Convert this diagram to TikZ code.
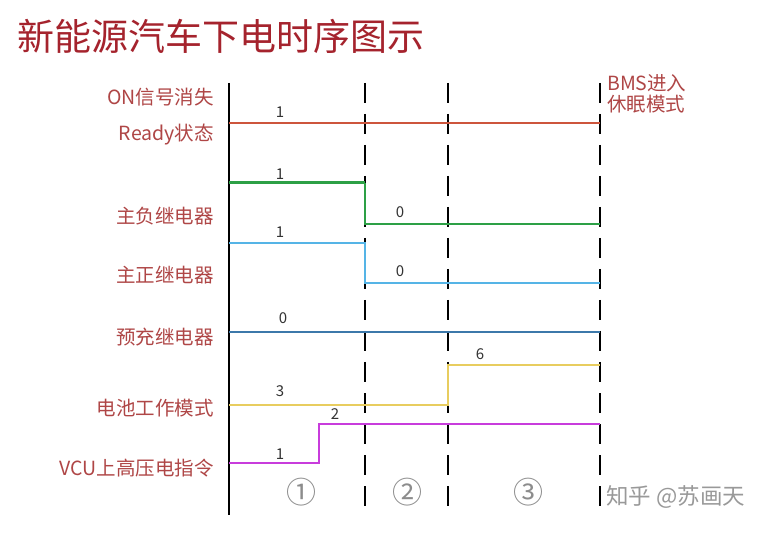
\documentclass[tikz,border=0pt]{standalone}
\usepackage{fontspec}
\setmainfont{Noto Sans CJK SC}
\definecolor{titlered}{RGB}{165,35,45}
\definecolor{labelred}{RGB}{175,70,70}
\definecolor{readyred}{RGB}{205,85,60}
\definecolor{negreen}{RGB}{45,160,70}
\definecolor{poscyan}{RGB}{85,180,230}
\definecolor{prebl}{RGB}{60,120,170}
\definecolor{batyel}{RGB}{232,205,95}
\definecolor{vcumag}{RGB}{200,60,220}
\tikzset{
	siglabel/.style={anchor=east,text=labelred,font=\fontsize{19.5}{21}\selectfont,inner sep=0pt},
	val/.style={font=\fontsize{15}{17}\selectfont,text=black!80,inner sep=0pt},
	phase/.style={font=\fontsize{30}{32}\selectfont,text=black!45,inner sep=0pt},
	tline/.style={black,line width=2.6pt,dash pattern=on 20pt off 11pt}
}
\begin{document}
\begin{tikzpicture}[x=1pt,y=-1pt]
	\useasboundingbox[fill=white] (0,0) rectangle (766,537);
	% title
	\node[text=titlered,font=\fontsize{37}{39}\selectfont,anchor=west,inner sep=0pt] (title) at (17,36) {新能源汽车下电时序图示};
	% time axis
	\draw[line width=2.6pt] (229,83)--(229,515);
	\draw[tline] (365,83)--(365,515);
	\draw[tline] (448,83)--(448,515);
	\draw[tline] (600,83)--(600,515);
	% signals
	\draw[readyred,line width=1.6pt] (229,123)--(600,123);
	\draw[negreen,line width=3pt] (229,183)--(365,183);
	\draw[negreen,line width=1.8pt] (365,183)--(365,224)--(600,224);
	\draw[poscyan,line width=1.8pt] (229,243)--(365,243)--(365,283)--(600,283);
	\draw[prebl,line width=1.8pt] (229,332)--(600,332);
	\draw[batyel,line width=1.8pt] (229,405)--(448,405)--(448,365)--(600,365);
	\draw[vcumag,line width=2pt] (229,463)--(319,463)--(319,424)--(600,424);
	% values
	\node[val] (v1) at (280,112) {1};
	\node[val] (v2) at (280,174) {1};
	\node[val] (v3) at (400,212) {0};
	\node[val] (v4) at (280,232) {1};
	\node[val] (v5) at (400,271) {0};
	\node[val] (v6) at (283,318) {0};
	\node[val] (v7) at (280,391) {3};
	\node[val] (v8) at (480,354) {6};
	\node[val] (v9) at (280,454) {1};
	\node[val] (v10) at (335,414) {2};
	% signal names
	\node[siglabel] (on) at (214,97) {ON信号消失};
	\node[siglabel] (ready) at (214,135) {Ready状态};
	\node[siglabel] (neg) at (214,216) {主负继电器};
	\node[siglabel] (pos) at (214,275) {主正继电器};
	\node[siglabel] (pre) at (214,337) {预充继电器};
	\node[siglabel] (bat) at (214,408) {电池工作模式};
	\node[siglabel] (vcu) at (214,468) {VCU上高压电指令};
	\node[siglabel,anchor=west,align=left,font=\fontsize{19.5}{21}\selectfont] (bms) at (607,94) {BMS进入\\休眠模式};
	% phases
	\node[phase] (p1) at (301,492) {①};
	\node[phase] (p2) at (407,492) {②};
	\node[phase] (p3) at (528,492) {③};
	\node[anchor=west,text=black!40,font=\fontsize{22.5}{24}\selectfont,inner sep=0pt] (mark) at (606,497) {知乎 @苏画天};
\end{tikzpicture}
\end{document}
